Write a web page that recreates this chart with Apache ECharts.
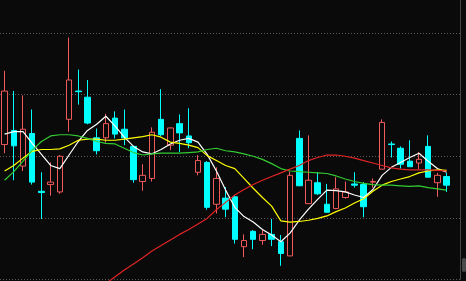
<!DOCTYPE html>
<html>
<head>
<meta charset="utf-8">
<script src="https://cdn.jsdelivr.net/npm/echarts@6/dist/echarts.min.js"></script>
<style>
html,body{margin:0;padding:0;background:#0a0a0a;}
#chart{width:466px;height:281px;}
</style>
</head>
<body>
<div id="chart"></div>
<script>
const categories = ['1','2','3','4','5','6','7','8','9','10','11','12','13','14','15','16','17','18','19','20','21','22','23','24','25','26','27','28','29','30','31','32','33','34','35','36','37','38','39','40','41','42','43','44','45','46','47','48','49','50'];
const opens  = [12.19,12.42,11.84,12.37,11.43,11.54,11.42,12.60,13.06,12.96,12.30,12.30,12.62,12.44,12.16,11.59,11.64,12.60,12.18,12.53,12.33,11.74,11.90,11.22,11.32,11.34,10.53,10.78,10.63,10.73,10.61,10.38,12.29,11.23,11.57,11.22,11.15,11.33,11.55,11.54,11.58,11.79,12.20,12.13,11.92,11.89,12.16,11.57,11.67];
const closes = [13.06,12.17,12.44,11.58,11.41,11.58,12.00,13.24,13.05,12.54,12.09,12.53,12.36,12.30,11.62,11.69,12.39,12.35,12.46,12.38,12.22,11.93,11.17,11.64,11.14,10.65,10.63,10.65,10.73,10.65,10.42,11.69,11.52,11.61,11.39,11.09,11.47,11.42,11.53,11.18,11.59,12.55,12.19,11.87,11.83,11.95,11.66,11.69,11.53];
const lows   = [12.05,11.61,11.76,11.54,10.98,11.36,11.39,12.40,12.84,12.52,12.03,12.22,12.29,12.18,11.57,11.44,11.59,12.33,12.10,12.07,12.13,11.69,11.13,11.07,11.01,10.58,10.36,10.49,10.56,10.54,10.22,10.38,11.52,11.23,11.37,11.09,11.14,11.31,11.49,11.01,11.49,11.79,11.98,11.80,11.83,11.79,11.66,11.34,11.42];
const highs  = [13.39,13.06,12.99,12.76,11.74,11.90,12.02,13.93,13.41,13.24,12.45,12.69,12.73,12.76,12.17,11.87,12.47,13.09,12.47,12.68,12.78,12.02,11.92,11.82,11.50,11.37,10.73,10.80,10.81,10.98,10.72,11.75,12.42,12.34,11.74,11.55,11.66,11.59,11.74,11.58,11.64,12.60,12.24,12.16,12.26,12.07,12.34,11.73,11.73];
const ma5  = [12.36,12.40,12.40,12.21,12.03,11.85,11.80,12.02,12.24,12.42,12.52,12.65,12.49,12.31,12.16,12.07,12.04,12.11,12.20,12.26,12.29,12.23,12.03,11.76,11.45,11.17,11.02,10.93,10.81,10.72,10.61,10.75,10.96,11.14,11.30,11.45,11.44,11.42,11.37,11.33,11.46,11.69,11.82,11.90,11.98,12.05,11.92,11.80,11.74];
const ma10 = [11.76,11.85,11.97,12.08,12.11,12.11,12.12,12.18,12.26,12.28,12.28,12.26,12.26,12.28,12.30,12.32,12.35,12.31,12.23,12.21,12.18,12.14,12.01,11.93,11.85,11.80,11.64,11.48,11.33,11.19,10.95,10.93,10.94,10.96,10.99,11.03,11.10,11.16,11.24,11.31,11.43,11.53,11.59,11.63,11.67,11.73,11.76,11.78,11.77];
const ma20 = [11.61,11.75,11.92,12.10,12.24,12.33,12.35,12.35,12.33,12.29,12.24,12.21,12.20,12.13,12.06,12.02,12.04,12.05,12.05,12.05,12.06,12.07,12.11,12.13,12.09,12.07,12.04,12.00,11.95,11.88,11.80,11.76,11.75,11.74,11.73,11.72,11.68,11.63,11.59,11.56,11.54,11.53,11.53,11.52,11.51,11.52,11.49,11.47,11.45];
const ma60 = ['-','-','-','-','-','-','-','-','-','-',9.84,9.93,10.04,10.15,10.25,10.35,10.46,10.55,10.64,10.73,10.81,10.90,10.99,11.13,11.25,11.37,11.46,11.54,11.61,11.67,11.73,11.79,11.85,11.93,11.98,12.02,12.02,12.00,11.97,11.93,11.89,11.85,11.81,11.79,11.78,11.78,11.78,11.77,11.76];

const candleData = opens.map((o, i) => [o, closes[i], lows[i], highs[i]]);

const chart = echarts.init(document.getElementById('chart'), null, {renderer: 'canvas'});
function maSeries(data, color) {
  return {
    type: 'line', data: data, symbol: 'none', smooth: false, clip: false,
    lineStyle: {color: color, width: 1.2}, z: 3, silent: true
  };
}
chart.setOption({
  animation: false,
  backgroundColor: '#0a0a0a',
  grid: {left: 0, right: 5.6, top: 0, bottom: 1.7},
  xAxis: {
    type: 'category', data: categories, boundaryGap: true,
    axisLine: {show: false}, axisTick: {show: false}, axisLabel: {show: false}, splitLine: {show: false}
  },
  yAxis: {
    type: 'value', position: 'right', min: 10, max: 14.54, interval: 1,
    axisLine: {show: true, lineStyle: {color: '#454545', width: 1}},
    axisTick: {show: false}, axisLabel: {show: false},
    splitLine: {show: true, showMinLine: true, showMaxLine: false,
      lineStyle: {color: '#5a5a5a', width: 1, type: [1, 2]}}
  },
  graphic: [{
    type: 'rect', right: 0, top: 258, shape: {width: 4, height: 14, r: 2},
    style: {fill: '#4a4a4a'}
  }],
  series: [
    {
      type: 'candlestick', data: candleData, barWidth: 6, clip: false,
      itemStyle: {
        color: '#0a0a0a', color0: '#00ffff',
        borderColor: '#f05a5a', borderColor0: '#00ffff', borderWidth: 1
      }
    },
    maSeries(ma5, '#ffffff'),
    maSeries(ma10, '#ffff00'),
    maSeries(ma20, '#33cc33'),
    maSeries(ma60, '#e02424')
  ]
});
</script>
</body>
</html>
